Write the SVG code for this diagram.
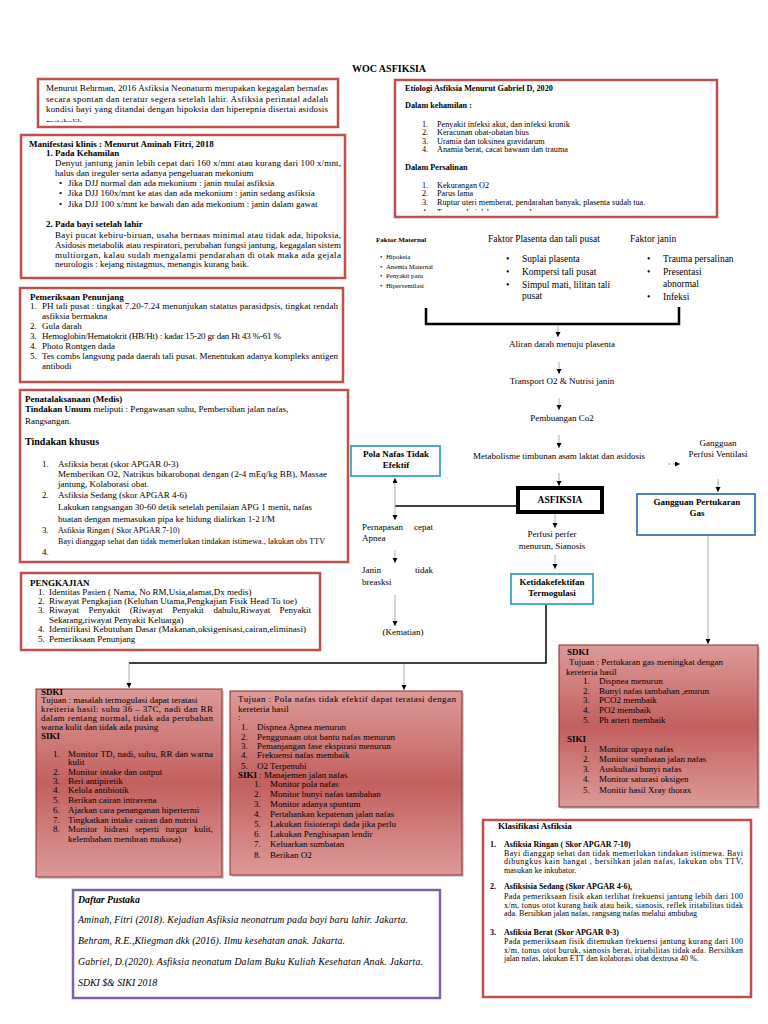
<svg xmlns="http://www.w3.org/2000/svg" width="768" height="1024" viewBox="0 0 768 1024">
<style>
text{font-family:"Liberation Serif","Times New Roman",serif;font-size:9px;fill:#000}
.b{font-weight:bold}
.i{font-style:italic}
.s7{font-size:8px}
.s65{font-size:6.7px}
.e{font-size:8.2px}
.m{text-anchor:middle}
.r{text-anchor:end}
.red{fill:#fff;stroke:#c0504d;stroke-width:2.5}
.cyan{fill:#fff;stroke:#4bacc6;stroke-width:2}
.blue{fill:#fff;stroke:#4f81bd;stroke-width:2}
.sd{fill:url(#g);stroke:#8c2c2a;stroke-width:1}
.sh{fill:#999;opacity:.45}
.ar{stroke:#999;stroke-width:0.8;fill:none;marker-end:url(#ah)}
.bl{stroke:#000;stroke-width:1.5;fill:none}
</style>
<defs>
<marker id="ah" markerUnits="userSpaceOnUse" markerWidth="6" markerHeight="6" refX="5" refY="2.5" orient="auto"><path d="M0,0 L5,2.5 L0,5 z" fill="#000"/></marker>
<linearGradient id="g" x1="0" y1="0" x2="0" y2="1"><stop offset="0" stop-color="#dc9a98"/><stop offset="0.5" stop-color="#c3605d"/><stop offset="1" stop-color="#dc9a98"/></linearGradient>
<clipPath id="c1"><rect x="38" y="79" width="300" height="43"/></clipPath>
<clipPath id="c2"><rect x="395" y="80" width="322" height="131"/></clipPath>
<clipPath id="c3"><rect x="21" y="573" width="299" height="75"/></clipPath>
</defs>
<rect width="768" height="1024" fill="#fff"/>
<text x="389" y="72" class="b m" style="font-size:10px">WOC ASFIKSIA</text>

<g id="definisi">
<rect class="red" x="38" y="79" width="300" height="48"/>
<g clip-path="url(#c1)">
<text x="46" y="91" textLength="282" lengthAdjust="spacing">Menurut Behrman, 2016 Asfiksia Neonaturm  merupakan kegagalan bernafas</text>
<text x="46" y="101.5" textLength="282" lengthAdjust="spacing">secara spontan dan teratur segera setelah lahir. Asfiksia perinatal adalah</text>
<text x="46" y="112" textLength="282" lengthAdjust="spacing">kondisi bayi yang ditandai dengan hipoksia dan hiperepnia disertai asidosis</text>
<text x="46" y="125">metabolik</text>
</g>
</g>

<g id="manifestasi">
<rect class="red" x="21" y="135" width="324" height="143"/>
<text x="29" y="147" class="b">Manifestasi klinis : Menurut Aminah Fitri, 2018</text>
<text x="46" y="156" class="b">1. Pada Kehamilan</text>
<text x="55" y="166" textLength="286" lengthAdjust="spacing">Denyut jantung janin lebih cepat dari 160 x/mnt atau kurang dari 100 x/mnt,</text>
<text x="55" y="176">halus dan ireguler serta adanya pengeluaran mekonium</text>
<text x="59" y="186">•</text><text x="68" y="186">Jika DJJ normal dan ada mekonium : janin mulai asfiksia</text>
<text x="59" y="196">•</text><text x="68" y="196">Jika DJJ 160x/mnt ke atas dan ada mekonium : janin sedang asfiksia</text>
<text x="59" y="207">•</text><text x="68" y="207">Jika DJJ 100 x/mnt ke bawah dan ada mekonium : janin dalam gawat</text>
<text x="46" y="227" class="b">2. Pada bayi setelah lahir</text>
<text x="55" y="238" textLength="286" lengthAdjust="spacing">Bayi pucat kebiru-biruan, usaha bernaas minimal atau tidak ada, hipoksia,</text>
<text x="55" y="248" textLength="286" lengthAdjust="spacing">Asidosis metabolik atau respiratori, perubahan fungsi jantung, kegagalan sistem</text>
<text x="55" y="258" textLength="286" lengthAdjust="spacing">multiorgan, kalau sudah mengalami pendarahan di otak maka ada gejala</text>
<text x="55" y="267">neurologis : kejang nistagmus, menangis kurang baik.</text>
</g>

<g id="etiologi">
<rect class="red" x="395" y="80" width="322" height="137"/>
<g clip-path="url(#c2)">
<text x="405" y="91" class="b e">Etiologi Asfiksia Menurut Gabriel D, 2020</text>
<text x="405" y="108" class="b e">Dalam kehamilan :</text>
<text x="422" y="127" class="e">1.</text><text x="437" y="127" class="e">Penyakit infeksi akut, dan infeksi kronik</text>
<text x="422" y="135" class="e">2.</text><text x="437" y="135" class="e">Keracunan obat-obatan bius</text>
<text x="422" y="143.5" class="e">3.</text><text x="437" y="143.5" class="e">Uramia dan toksinea gravidarum</text>
<text x="422" y="152" class="e">4.</text><text x="437" y="152" class="e">Anamia berat, cacat bawaan dan trauma</text>
<text x="405" y="170" class="b e">Dalam Persalinan</text>
<text x="422" y="188" class="e">1.</text><text x="437" y="188" class="e">Kekurangan O2</text>
<text x="422" y="196" class="e">2.</text><text x="437" y="196" class="e">Parus lama</text>
<text x="422" y="205" class="e">3.</text><text x="437" y="205" class="e">Ruptur uteri memberat, pendarahan banyak, plasenta sudah tua.</text>
<text x="422" y="215" class="e">4.</text><text x="437" y="215" class="e">Trauma dari dalam maupun luar</text>
</g>
</g>

<g id="faktor-maternal">
<text x="376" y="242" class="b" style="font-size:7px">Faktor Maternal</text>
<text x="380" y="259" class="s65">•</text><text x="386" y="259" class="s65">Hipoksia</text>
<text x="380" y="269" class="s65">•</text><text x="386" y="269" class="s65">Anemia Maternal</text>
<text x="380" y="278" class="s65">•</text><text x="386" y="278" class="s65">Penyakit paru</text>
<text x="380" y="288" class="s65">•</text><text x="386" y="288" class="s65">Hiperventilasi</text>
</g>
<g id="faktor-plasenta">
<text x="488" y="242" style="font-size:9.5px">Faktor Plasenta dan tali pusat</text>
<text x="506" y="262" style="font-size:9.5px">•</text><text x="522" y="262" style="font-size:9.5px">Suplai plasenta</text>
<text x="506" y="275" style="font-size:9.5px">•</text><text x="522" y="275" style="font-size:9.5px">Kompersi tali pusat</text>
<text x="506" y="288" style="font-size:9.5px">•</text><text x="522" y="288" style="font-size:9.5px">Simpul mati, lilitan tali</text>
<text x="522" y="299" style="font-size:9.5px">pusat</text>
</g>
<g id="faktor-janin">
<text x="630" y="242" style="font-size:9.5px">Faktor janin</text>
<text x="647" y="262" style="font-size:9.5px">•</text><text x="663" y="262" style="font-size:9.5px">Trauma persalinan</text>
<text x="647" y="275" style="font-size:9.5px">•</text><text x="663" y="275" style="font-size:9.5px">Presentasi</text>
<text x="663" y="287" style="font-size:9.5px">abnormal</text>
<text x="647" y="300" style="font-size:9.5px">•</text><text x="663" y="300" style="font-size:9.5px">Infeksi</text>
</g>

<g id="pemeriksaan">
<rect class="red" x="20" y="288" width="323" height="94"/>
<text x="30" y="300" class="b">Pemeriksaan  Penunjang</text>
<text x="30" y="309">1.</text><text x="42" y="309" textLength="296" lengthAdjust="spacing">PH tali  pusat : tingkat 7.20-7.24 menunjukan statatus parasidpsis, tingkat rendah</text>
<text x="42" y="319">asfiksia bermakna</text>
<text x="30" y="329">2.</text><text x="42" y="329">Gula darah</text>
<text x="30" y="339">3.</text><text x="42" y="339" textLength="239" lengthAdjust="spacing">Hemoglobin/Hematokrit (HB/Ht) : kadar 15-20 gr dan Ht 43 %-61 %</text>
<text x="30" y="349">4.</text><text x="42" y="349">Photo Rontgen  dada</text>
<text x="30" y="359">5.</text><text x="42" y="359" textLength="296" lengthAdjust="spacing">Tes combs langsung  pada daerah  tali pusat. Menentukan adanya kompleks antigen</text>
<text x="42" y="369">antibodi</text>
</g>

<g id="penatalaksanaan">
<rect class="red" x="20" y="390" width="328" height="172"/>
<text x="25" y="402" class="b">Penatalaksanaan (Medis)</text>
<text x="25" y="412"><tspan class="b">Tindakan Umum</tspan>  meliputi : Pengawasan suhu, Pembersihan jalan nafas,</text>
<text x="25" y="424">Rangsangan.</text>
<text x="25" y="445" class="b" style="font-size:10px">Tindakan khusus</text>
<text x="42" y="467">1.</text><text x="58" y="467">Asfiksia berat (skor APGAR 0-3)</text>
<text x="58" y="477" textLength="269" lengthAdjust="spacing">Memberikan O2, Natrikus bikarobonat dengan (2-4 mEq/kg BB), Massae</text>
<text x="58" y="487">jantung, Kolaborasi obat.</text>
<text x="42" y="498">2.</text><text x="58" y="498">Asfiksia Sedang (skor APGAR 4-6)</text>
<text x="58" y="510" textLength="254" lengthAdjust="spacing">Lakukan rangsangan 30-60 detik setelah penilaian APG 1 menit, nafas</text>
<text x="58" y="522">buatan  dengan memasukan pipa ke hidung dialirkan 1-2 l/M</text>
<text x="42" y="533">3.</text><text x="58" y="533" class="s7">Asfiksia Ringan ( Skor APGAR 7-10)</text>
<text x="58" y="544" class="s7" textLength="267" lengthAdjust="spacing">Bayi dianggap sehat dan tidak memerlukan tindakan istimewa., lakukan obs TTV</text>
<text x="42" y="555">4.</text>
</g>

<g id="pengkajian">
<rect class="red" x="21" y="573" width="299" height="77"/>
<g clip-path="url(#c3)">
<text x="30" y="586" class="b">PENGKAJIAN</text>
<text x="38" y="595">1.</text><text x="49" y="595">Identitas Pasien ( Nama, No RM,Usia,alamat,Dx medis)</text>
<text x="38" y="604">2.</text><text x="49" y="604" textLength="248" lengthAdjust="spacing">Riwayat Pengkajian (Keluhan Utama,Pengkajian Fisik Head To toe)</text>
<text x="38" y="613">3.</text><text y="613"><tspan x="49">Riwayat</tspan><tspan x="88.6">Penyakit</tspan><tspan x="129.7">(Riwayat</tspan><tspan x="172.3">Penyakit</tspan><tspan x="213.4">dahulu,Riwayat</tspan><tspan x="279.5">Penyakit</tspan></text>
<text x="49" y="623">Sekarang,riwayat Penyakit Keluarga)</text>
<text x="38" y="632">4.</text><text x="49" y="632" textLength="257" lengthAdjust="spacing">Identifikasi Kebutuhan Dasar (Makanan,oksigenisasi,cairan,eliminasi)</text>
<text x="38" y="642">5.</text><text x="49" y="642">Pemeriksaan Penunjang</text>
</g>
</g>

<g id="pola-nafas">
<rect class="cyan" x="351" y="446" width="89" height="30"/>
<text x="396" y="457" class="b m">Pola Nafas Tidak</text>
<text x="396" y="468" class="b m">Efektif</text>
</g>
<g id="flow-texts">
<text x="562" y="347" class="m">Aliran darah menuju plasenta</text>
<text x="562" y="384" class="m">Transport O2 &amp; Nutrisi janin</text>
<text x="562" y="421" class="m">Pembuangan Co2</text>
<text x="559" y="459" class="m">Metabolisme timbunan asam laktat dan asidosis</text>
<text x="718" y="446" class="m">Gangguan</text>
<text x="718" y="457" class="m">Perfusi Ventilasi</text>
<text x="362" y="530">Pernapasan</text><text x="433" y="530" class="r">cepat</text>
<text x="362" y="541">Apnea</text>
<text x="362" y="573">Janin</text><text x="433" y="573" class="r">tidak</text>
<text x="362" y="585">breasksi</text>
<text x="403" y="635" class="m">(Kematian)</text>
<text x="552" y="537" class="m">Perfusi perfer</text>
<text x="552" y="549" class="m">menurun, Sianosis</text>
</g>
<g id="asfiksia">
<rect x="518" y="488" width="84" height="24" fill="#fff" stroke="#000" stroke-width="4"/>
<text x="560" y="503" class="b m" style="font-size:9.5px">ASFIKSIA</text>
</g>
<g id="gangguan-gas">
<rect class="blue" x="637" y="494" width="118" height="41"/>
<text x="697" y="505" class="b m">Gangguan Pertukaran</text>
<text x="697" y="516" class="b m">Gas</text>
</g>
<g id="termogulasi">
<rect class="cyan" x="511" y="574" width="82" height="30"/>
<text x="552" y="585" class="b m">Ketidakefektifan</text>
<text x="552" y="596" class="b m">Termogulasi</text>
</g>

<g id="connectors">
<path d="M426,308 V324 H679 V307" fill="none" stroke="#000" stroke-width="2.5"/>
<line class="ar" x1="558" y1="325" x2="558" y2="337"/>
<line class="ar" x1="559" y1="362" x2="559" y2="374"/>
<line class="ar" x1="559" y1="398" x2="559" y2="410"/>
<line class="ar" x1="559" y1="435" x2="559" y2="448"/>
<line class="ar" x1="559" y1="473" x2="559" y2="486"/>
<path class="bl" d="M516,506 H395"/>
<line class="ar" x1="395" y1="506" x2="395" y2="478"/>
<line class="ar" x1="395" y1="506" x2="395" y2="520"/>
<line class="ar" x1="395" y1="550" x2="395" y2="563"/>
<line class="ar" x1="395" y1="595" x2="395" y2="626"/>
<line class="ar" x1="555" y1="514" x2="555" y2="528"/>
<line class="ar" x1="555" y1="555" x2="555" y2="569"/>
<line class="ar" x1="668" y1="464" x2="680" y2="464" stroke-dasharray="3,2"/>
<line class="ar" x1="718" y1="479" x2="718" y2="492"/>
<line class="ar" x1="708" y1="536" x2="708" y2="644"/>
<path class="bl" d="M546,605 V663 H129"/>
<line class="ar" x1="129" y1="663" x2="129" y2="688"/>
<line class="ar" x1="404" y1="664" x2="404" y2="690"/>
</g>

<g id="sdki-termogulasi">
<rect class="sh" x="38" y="691" width="186" height="188"/>
<rect class="sd" x="36" y="689" width="186" height="188"/>
<text x="41" y="695" class="b">SDKI</text>
<text x="41" y="703">Tujuan : masalah termogulasi dapat teratasi</text>
<text x="41" y="712" textLength="172" lengthAdjust="spacing">kreiteria hasil: suhu 36 – 37C, nadi dan RR</text>
<text x="41" y="721" textLength="172" lengthAdjust="spacing">dalam rentang normal, tidak ada perubahan</text>
<text x="41" y="730">warna kulit dan tidak ada pusing</text>
<text x="41" y="739" class="b">SIKI</text>
<text x="53" y="757">1.</text><text x="68" y="757" textLength="145" lengthAdjust="spacing">Monitor TD, nadi, suhu, RR dan warna</text>
<text x="68" y="765">kulit</text>
<text x="53" y="775">2.</text><text x="68" y="775">Monitor intake dan output</text>
<text x="53" y="784">3.</text><text x="68" y="784">Beri antipiretik</text>
<text x="53" y="793">4.</text><text x="68" y="793">Kelola  antibiotik</text>
<text x="53" y="803">5.</text><text x="68" y="803">Berikan cairan intravena</text>
<text x="53" y="813">6.</text><text x="68" y="813">Ajarkan cara penanganan hipertermi</text>
<text x="53" y="823">7.</text><text x="68" y="823">Tingkatkan intake cairan dan nutrisi</text>
<text x="53" y="832">8.</text><text y="832"><tspan x="68">Monitor</tspan><tspan x="104">hidrasi</tspan><tspan x="135">seperti</tspan><tspan x="165.6">turgor</tspan><tspan x="194">kulit,</tspan></text>
<text x="68" y="842">kelembaban membran mukosa)</text>
</g>

<g id="sdki-pola-nafas">
<rect class="sh" x="232" y="693" width="232" height="184"/>
<rect class="sd" x="230" y="691" width="232" height="184"/>
<text x="238" y="702" textLength="218" lengthAdjust="spacing">Tujuan : Pola nafas tidak efektif dapat teratasi dengan</text>
<text x="238" y="712">kereteria hasil</text>
<text x="238" y="720">:</text>
<text x="241" y="730">1.</text><text x="257" y="730">Dispnea Apnea menurun</text>
<text x="241" y="740">2.</text><text x="257" y="740">Penggunaan otot bantu nafas menurun</text>
<text x="241" y="749">3.</text><text x="257" y="749">Pemanjangan fase ekspirasi menurun</text>
<text x="241" y="758">4.</text><text x="257" y="758">Frekuensi nafas membaik</text>
<text x="241" y="769">5.</text><text x="257" y="769">O2 Terpenuhi</text>
<text x="238" y="778"><tspan class="b">SIKI</tspan> : Manajemen jalan nafas</text>
<text x="254" y="787">1.</text><text x="270" y="787">Monitor pola nafas</text>
<text x="254" y="797">2.</text><text x="270" y="797">Monitor bunyi nafas tambahan</text>
<text x="254" y="807">3.</text><text x="270" y="807">Monitor adanya spuntum</text>
<text x="254" y="817">4.</text><text x="270" y="817">Pertahankan kepatenan jalan nafas</text>
<text x="254" y="827">5.</text><text x="270" y="827">Lakukan fisioterapi dada jika perlu</text>
<text x="254" y="837">6.</text><text x="270" y="837">Lakukan Penghisapan lendir</text>
<text x="254" y="847">7.</text><text x="270" y="847">Keluarkan sumbatan</text>
<text x="254" y="858">8.</text><text x="270" y="858">Berikan O2</text>
</g>

<g id="sdki-gas">
<rect class="sh" x="561" y="647" width="199" height="162"/>
<rect class="sd" x="559" y="645" width="199" height="162"/>
<text x="567" y="655" class="b">SDKI</text>
<text x="569" y="665">Tujuan : Pertukaran gas meningkat dengan</text>
<text x="566" y="675">kereteria hasil</text>
<text x="583" y="684">1.</text><text x="599" y="684">Dispnea menurun</text>
<text x="583" y="694">2.</text><text x="599" y="694">Bunyi nafas tambahan ,enurun</text>
<text x="583" y="703">3.</text><text x="599" y="703">PCO2 membaik</text>
<text x="583" y="713">4.</text><text x="599" y="713">PO2 membaik</text>
<text x="583" y="723">5.</text><text x="599" y="723">Ph  arteri membaik</text>
<text x="567" y="742" class="b">SIKI</text>
<text x="583" y="752">1.</text><text x="599" y="752">Monitor upaya nafas</text>
<text x="583" y="762">2.</text><text x="599" y="762">Monitor sumbatan jalan nafas</text>
<text x="583" y="772">3.</text><text x="599" y="772">Auskultasi bunyi nafas</text>
<text x="583" y="782">4.</text><text x="599" y="782">Monitor saturasi oksigen</text>
<text x="583" y="793">5.</text><text x="599" y="793">Monitir hasil Xray thorax</text>
</g>

<g id="klasifikasi">
<rect class="red" x="483" y="820" width="268" height="177"/>
<text x="498" y="829" class="b">Klasifikasi Asfiksia</text>
<text x="490" y="847" class="b s7">1.</text><text x="504" y="847" class="b s7">Asfiksia Ringan ( Skor APGAR 7-10)</text>
<text x="504" y="855.5" class="s7" textLength="239" lengthAdjust="spacing">Bayi dianggap sehat dan tidak memerlukan tindakan istimewa. Bayi</text>
<text x="504" y="864" class="s7" textLength="239" lengthAdjust="spacing">dibungkus kain hangat , bersihkan jalan nafas, lakukan obs TTV,</text>
<text x="504" y="872.5" class="s7">masukan ke inkubator.</text>
<text x="490" y="889" class="b s7">2.</text><text x="504" y="889" class="b s7">Asfiksisia Sedang (Skor APGAR 4-6),</text>
<text x="504" y="899" class="s7" textLength="239" lengthAdjust="spacing">Pada pemeriksaan fisik akan terlihat frekuensi jantung lebih dari 100</text>
<text x="504" y="907.5" class="s7" textLength="239" lengthAdjust="spacing">x/m, tonus otot kurang baik atau baik, sianosis, reflek iritabilitas tidak</text>
<text x="504" y="916" class="s7">ada. Bersihkan jalan nafas, rangsang nafas melalui ambubag</text>
<text x="490" y="935" class="b s7">3.</text><text x="504" y="935" class="b s7">Asfiksia Berat (Skor APGAR 0-3)</text>
<text x="504" y="944" class="s7" textLength="239" lengthAdjust="spacing">Pada pemeriksaan fisik ditemukan frekuensi jantung kurang dari 100</text>
<text x="504" y="952.5" class="s7" textLength="239" lengthAdjust="spacing">x/m, tonus otot buruk, sianosis berat, iritabilitas tidak ada. Bersihkan</text>
<text x="504" y="961" class="s7">jalan nafas, lakukan ETT dan kolaborasi obat dextrosa 40 %.</text>
</g>

<g id="daftar-pustaka">
<rect x="73" y="890" width="367" height="108" fill="#fff" stroke="#8064a2" stroke-width="2.5"/>
<text x="78" y="903" class="b i" style="font-size:9.8px">Daftar Pustaka</text>
<text x="78" y="923" class="i" style="font-size:9.8px" textLength="330" lengthAdjust="spacing">Aminah, Fitri (2018). Kejadian Asfiksia neonatrum  pada bayi baru lahir. Jakarta.</text>
<text x="78" y="944" class="i" style="font-size:9.8px" textLength="267" lengthAdjust="spacing">Behram, R.E.,Kliegman dkk (2016). Ilmu kesehatan anak. Jakarta.</text>
<text x="78" y="965" class="i" style="font-size:9.8px" textLength="345" lengthAdjust="spacing">Gabriel, D.(2020). Asfiksia neonatum Dalam Buku  Kuliah Kesehatan Anak. Jakarta.</text>
<text x="78" y="986" class="i" style="font-size:9.8px">SDKI $&amp; SIKI 2018</text>
</g>
</svg>
